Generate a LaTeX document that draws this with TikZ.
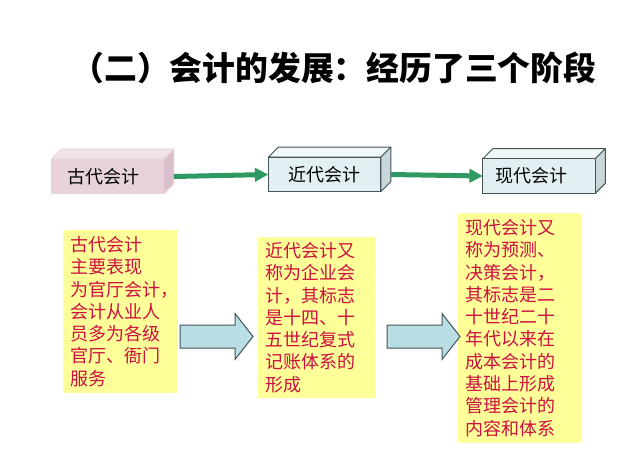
\documentclass[tikz,border=0pt]{standalone}
\usepackage{fontspec}
\setmainfont{Noto Sans CJK SC}
\usetikzlibrary{calc,arrows.meta}

\definecolor{rosefond}{HTML}{E8D3DC}
\definecolor{rosehaut}{HTML}{F0E2E8}
\definecolor{rosecote}{HTML}{D9C0CC}
\definecolor{cielfond}{HTML}{E2F0F3}
\definecolor{cielhaut}{HTML}{EFF7F8}
\definecolor{cielcote}{HTML}{C7D7DA}
\definecolor{vert}{HTML}{2E9A62}
\definecolor{jaune}{HTML}{FFFF99}
\definecolor{rouge}{HTML}{CC1040}
\definecolor{bleu}{HTML}{B9DEE3}
\definecolor{gris}{HTML}{44545A}

\begin{document}
\begin{tikzpicture}[x=0.75pt,y=-0.75pt]
  \tikzstyle{etape}=[rectangle, minimum width=84pt, minimum height=25.5pt, inner sep=0, font=\fontsize{13.5}{16}\selectfont];
  \tikzstyle{texte}=[rectangle, fill=jaune, text=rouge, align=left, inner xsep=5.25pt, inner ysep=0, font=\fontsize{13.5}{16.7}\selectfont];
  \tikzstyle{fleche}=[draw=gris, fill=bleu, line width=0.75pt, line join=miter];
  \tikzstyle{lien}=[draw=vert, line width=3.75pt, -{Triangle[length=10pt,width=10pt]}];

  \useasboundingbox[fill=white] (0,0) rectangle (640,469);

  \node[font=\bfseries\fontsize{24.6}{28}\selectfont] (titre) at (334,68) {（二）会计的发展：经历了三个阶段};

  % les trois etapes
  \node[etape] (gudai) at (107.5,176.5) {};
  \node[etape] (jindai) at (324.5,174.5) {};
  \node[etape] (xiandai) at (539,176) {};

  \foreach \n/\f/\h/\c/\d in {gudai/rosefond/rosehaut/rosecote/rosefond, jindai/cielfond/cielhaut/cielcote/gris, xiandai/cielfond/cielhaut/cielcote/gris}{
    \filldraw[fill=\h, draw=\d, line width=0.75pt, line join=round] (\n.north west) -- ($(\n.north west)+(10,-10)$) -- ($(\n.north east)+(10,-10)$) -- (\n.north east) -- cycle;
    \filldraw[fill=\c, draw=\d, line width=0.75pt, line join=round] (\n.north east) -- ($(\n.north east)+(10,-10)$) -- ($(\n.south east)+(10,-10)$) -- (\n.south east) -- cycle;
    \filldraw[fill=\f, draw=\d, line width=0.75pt] (\n.north west) rectangle (\n.south east);
  }
  \node[font=\fontsize{13.5}{16}\selectfont] at ([xshift=-3pt]gudai.center) {古代会计};
  \node[font=\fontsize{13.5}{16}\selectfont] at (jindai.center) {近代会计};
  \node[font=\fontsize{13.5}{16}\selectfont] at ([xshift=-6pt]xiandai.center) {现代会计};

  \draw[lien] ([xshift=7.5pt]gudai.east) -- (jindai.west);
  \draw[lien] ([xshift=7.5pt]jindai.east) -- (xiandai.west);

  % les descriptions
  \node[texte, text width=75pt, minimum height=122.25pt] (texteA) at (120,311.5)
    {古代会计\\主要表现\\为官厅会计，\\会计从业人\\员多为各级\\官厅、衙门\\服务};
  \node[texte, text width=77.25pt, minimum height=120.75pt] (texteB) at (316.5,317.5)
    {近代会计又\\称为企业会\\计，其标志\\是十四、十\\五世纪复式\\记账体系的\\形成};
  \node[texte, text width=82.5pt, minimum height=172.5pt] (texteC) at (520,328)
    {现代会计又\\称为预测、\\决策会计，\\其标志是二\\十世纪二十\\年代以来在\\成本会计的\\基础上形成\\管理会计的\\内容和体系};

  % les grosses fleches
  \coordinate (flecheA) at (180,336.5);
  \coordinate (flecheB) at (387,336.5);
  \foreach \n in {flecheA, flecheB}{
    \filldraw[fleche] (\n) ++(0,-11.5) -- ++(55,0) -- ++(0,-11.5) -- ++(18,23) -- ++(-18,23) -- ++(0,-11.5) -- ++(-55,0) -- cycle;
  }
\end{tikzpicture}
\end{document}
